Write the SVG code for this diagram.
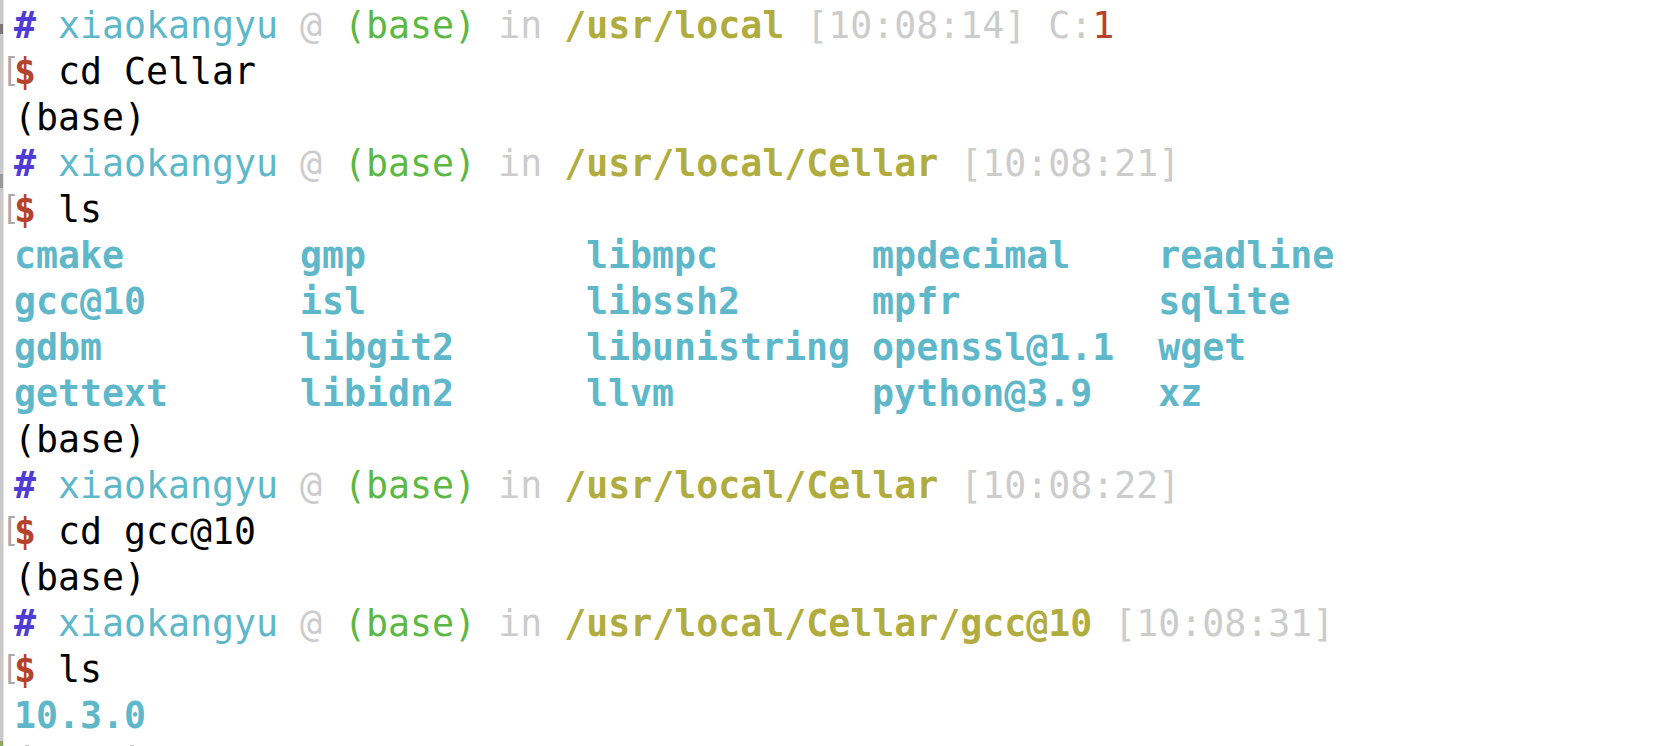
<svg xmlns="http://www.w3.org/2000/svg" width="1668" height="746" viewBox="0 0 1668 746">
<style>
text{font-family:"DejaVu Sans Mono","Liberation Mono",monospace;font-size:36.55px;white-space:pre;fill:#000}
.p{fill:#4f3bd6;font-weight:700}.t{fill:#5fb8c9}.g{fill:#cccccc}.n{fill:#5ab843}.o{fill:#b0ad3e;font-weight:700}.r{fill:#b5432c;font-weight:700}.e{fill:#b5432c}
.l{fill:#5fb8c9;font-weight:700}
text.k{fill:#a8a8a8;font-family:"Liberation Sans",sans-serif;font-size:32px}
</style>
<rect width="1668" height="746" fill="#ffffff"/>
<g id="edge">
<rect x="0" y="0" width="3.5" height="746" fill="#c9c9c9"/>
<rect x="0" y="24" width="3" height="10" fill="#777777"/>
<rect x="0" y="174" width="3" height="14" fill="#999999"/>
<rect x="0" y="741" width="3" height="5" fill="#8aa860"/>
<rect x="25" y="745" width="4" height="1" fill="#bbbbbb"/>
<rect x="130" y="745" width="4" height="1" fill="#bbbbbb"/>
</g>
<g id="p1"><text x="14" y="38"><tspan class="p">#</tspan> <tspan class="t">xiaokangyu</tspan> <tspan class="g">@</tspan> <tspan class="n">(base)</tspan> <tspan class="g">in</tspan> <tspan class="o">/usr/local</tspan> <tspan class="g">[10:08:14] C:</tspan><tspan class="e">1</tspan></text></g>
<g id="c1"><text class="k" x="6" y="79">[</text><text x="14" y="84"><tspan class="r">$</tspan> cd Cellar</text></g>
<text x="14" y="130">(base)</text>
<g id="p2"><text x="14" y="176"><tspan class="p">#</tspan> <tspan class="t">xiaokangyu</tspan> <tspan class="g">@</tspan> <tspan class="n">(base)</tspan> <tspan class="g">in</tspan> <tspan class="o">/usr/local/Cellar</tspan> <tspan class="g">[10:08:21]</tspan></text></g>
<g id="c2"><text class="k" x="6" y="217">[</text><text x="14" y="222"><tspan class="r">$</tspan> ls</text></g>
<g id="listing">
<text class="l" x="14" y="268">cmake        gmp          libmpc       mpdecimal    readline</text>
<text class="l" x="14" y="314">gcc@10       isl          libssh2      mpfr         sqlite</text>
<text class="l" x="14" y="360">gdbm         libgit2      libunistring openssl@1.1  wget</text>
<text class="l" x="14" y="406">gettext      libidn2      llvm         python@3.9   xz</text>
</g>
<text x="14" y="452">(base)</text>
<g id="p3"><text x="14" y="498"><tspan class="p">#</tspan> <tspan class="t">xiaokangyu</tspan> <tspan class="g">@</tspan> <tspan class="n">(base)</tspan> <tspan class="g">in</tspan> <tspan class="o">/usr/local/Cellar</tspan> <tspan class="g">[10:08:22]</tspan></text></g>
<g id="c3"><text class="k" x="6" y="539">[</text><text x="14" y="544"><tspan class="r">$</tspan> cd gcc@10</text></g>
<text x="14" y="590">(base)</text>
<g id="p4"><text x="14" y="636"><tspan class="p">#</tspan> <tspan class="t">xiaokangyu</tspan> <tspan class="g">@</tspan> <tspan class="n">(base)</tspan> <tspan class="g">in</tspan> <tspan class="o">/usr/local/Cellar/gcc@10</tspan> <tspan class="g">[10:08:31]</tspan></text></g>
<g id="c4"><text class="k" x="6" y="677">[</text><text x="14" y="682"><tspan class="r">$</tspan> ls</text></g>
<text class="l" x="14" y="728">10.3.0</text>
</svg>
